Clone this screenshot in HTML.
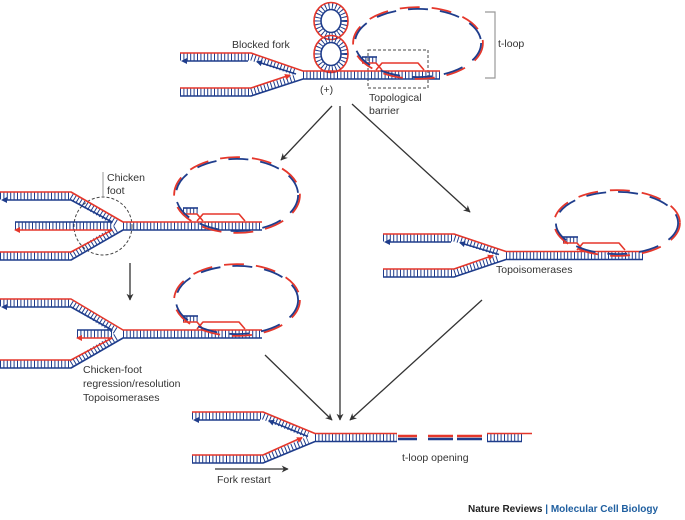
<!DOCTYPE html>
<html><head><meta charset="utf-8"><style>
body{margin:0;background:#fff}
svg{display:block}
text{font-family:"Liberation Sans",sans-serif;font-size:10.5px;fill:#333}
</style></head><body>
<svg id="s" width="685" height="520" xmlns="http://www.w3.org/2000/svg">
<defs><marker id="ah" viewBox="0 0 10 10" refX="9" refY="5" markerWidth="7" markerHeight="7" orient="auto" markerUnits="userSpaceOnUse"><path d="M0,0 L10,5 L0,10 L3,5z" fill="#333"/></marker></defs>
<rect width="685" height="520" fill="#fff"/>
<g stroke="#333" stroke-width="1.3" marker-end="url(#ah)">
<line x1="332" y1="106" x2="281" y2="160"/>
<line x1="340" y1="106" x2="340" y2="420"/>
<line x1="352" y1="104" x2="470" y2="212"/>
<line x1="130" y1="263" x2="130" y2="300"/>
<line x1="265" y1="355" x2="332" y2="420"/>
<line x1="482" y1="300" x2="350" y2="420"/>
<line x1="215" y1="469" x2="288" y2="469"/>
</g>
<rect x="368" y="50" width="60" height="38" fill="none" stroke="#444" stroke-dasharray="3 2"/>
<path d="M485,12 H495 V78 H485" fill="none" stroke="#999" stroke-width="1.2"/>
<circle cx="103" cy="226" r="29" fill="none" stroke="#444" stroke-dasharray="3 2"/>
<line x1="103" y1="172" x2="103" y2="197" stroke="#999"/>
<text x="232" y="48">Blocked fork</text>
<text x="320" y="93">(+)</text>
<text x="369" y="101">Topological</text>
<text x="369" y="114">barrier</text>
<text x="498" y="47">t-loop</text>
<text x="107" y="181">Chicken</text>
<text x="107" y="194">foot</text>
<text x="496" y="273">Topoisomerases</text>
<text x="83" y="373">Chicken-foot</text>
<text x="83" y="387">regression/resolution</text>
<text x="83" y="401">Topoisomerases</text>
<text x="402" y="461">t-loop opening</text>
<text x="217" y="483">Fork restart</text>
<text x="468" y="512" style="font-weight:bold;font-size:10px;fill:#222">Nature Reviews <tspan style="fill:#1f5fa0">| Molecular Cell Biology</tspan></text>
</svg>
<script>
const S=document.getElementById('s');const R='#e5372b',B='#1f3d8c';
function el(t,a){const e=document.createElementNS('http://www.w3.org/2000/svg',t);for(const k in a)e.setAttribute(k,a[k]);S.appendChild(e);return e;}
function P(pts,c,w,ex){el('polyline',Object.assign({points:pts.map(p=>p.join(',')).join(' '),fill:'none',stroke:c,'stroke-width':w||1.6,'stroke-linejoin':'round'},ex||{}));}
function rg(pts,w){P(pts,B,w||7,{'stroke-dasharray':'1 2.4','stroke-linejoin':'miter'});}
function arr(x,y,ang,c){el('path',{d:'M0,0 L-6,-3 L-6,3z',fill:c,transform:'translate('+x+','+y+') rotate('+ang+')'});}
function ang(a,b){return Math.atan2(b[1]-a[1],b[0]-a[0])*180/Math.PI;}
function fork(x0,yc,se,a1,a2,xm){
 rg([[x0,yc+a1],[x0+71,yc+a1],[x0+116,yc-3]]);
 rg([[x0,yc+a2],[x0+71,yc+a2],[x0+116,yc+3]]);
 rg([[x0+123,yc],[se,yc]]);
 P([[x0,yc+a1-4],[x0+71,yc+a1-4],[x0+123,yc-4],[se,yc-4]],R);
 P([[x0,yc+a2+4],[x0+71,yc+a2+4],[x0+123,yc+4],[se,yc+4]],B);
 if(xm===undefined){
  P([[x0+4,yc+a1+4],[x0+68,yc+a1+4]],B);arr(x0+1,yc+a1+4,180,B);
  const p1=[x0+78,yc+a1+5],p2=[x0+116,yc-1];P([p1,p2],B);arr(p1[0]-2,p1[1]-0.6,ang(p2,p1),B);
  const q1=[x0+71,yc+a2-4],q2=[x0+110,yc];P([[x0,yc+a2-4],q1,q2],R);arr(q2[0]+1,q2[1],ang(q1,q2),R);
 } else {
  rg([[xm,yc],[x0+112,yc]]);
  P([[x0+4,yc+a1+4],[x0+71,yc+a1+4],[x0+112,yc-4],[xm,yc-4]],B);arr(x0+1,yc+a1+4,180,B);
  P([[x0,yc+a2-4],[x0+71,yc+a2-4],[x0+112,yc+4],[xm+3,yc+4]],R);arr(xm-1,yc+4,180,R);
 }
}
function tloop(xa,yr,cx,cy,rx,ry){
 P([[xa,yr-14],[xa+15,yr-14]],B);rg([[xa,yr-11],[xa+15,yr-11]],6);
 P([[xa,yr-8],[xa+14,yr-8],[xa+20,yr-1]],R);
 P([[xa+14,yr-1],[xa+20,yr-8],[xa+56,yr-8],[xa+62,yr-1]],R);
 el('ellipse',{cx:cx,cy:cy,rx:rx+0.9,ry:ry+0.9,fill:'none',stroke:R,'stroke-width':1.8,'stroke-dasharray':'20 12'});
 el('ellipse',{cx:cx,cy:cy,rx:rx-0.9,ry:ry-0.9,fill:'none',stroke:B,'stroke-width':1.8,'stroke-dasharray':'20 12'});
}
// figure 8
[[331,21],[331,54]].forEach(c=>{
 el('ellipse',{cx:c[0],cy:c[1],rx:13.5,ry:15,fill:'none',stroke:B,'stroke-width':7,'stroke-dasharray':'1 2.4'});
 el('ellipse',{cx:c[0],cy:c[1],rx:17,ry:18.5,fill:'none',stroke:R,'stroke-width':1.6});
 el('ellipse',{cx:c[0],cy:c[1],rx:10,ry:11.5,fill:'none',stroke:B,'stroke-width':1.6});
});
fork(180,75,440,-18,17);tloop(362,71,418,43,64,35);
fork(383,255.5,643,-17.5,17.5);tloop(563,251,617,223,62,32);
fork(0,226,262,-30,30,15);tloop(183,222,237,195,62,37);
fork(0,334,262,-31,30,77);tloop(183,330,237,300,62,35);
fork(192,437.5,397,-21.5,21.5);
[[398,417],[428,453],[457,482]].forEach(d=>{P([[d[0],436],[d[1],436]],R,2.4);P([[d[0],439],[d[1],439]],B,2.4);});
rg([[487,437.5],[522,437.5]]);P([[487,433.5],[532,433.5]],R);P([[487,441.5],[522,441.5]],B);
</script>
</body></html>
